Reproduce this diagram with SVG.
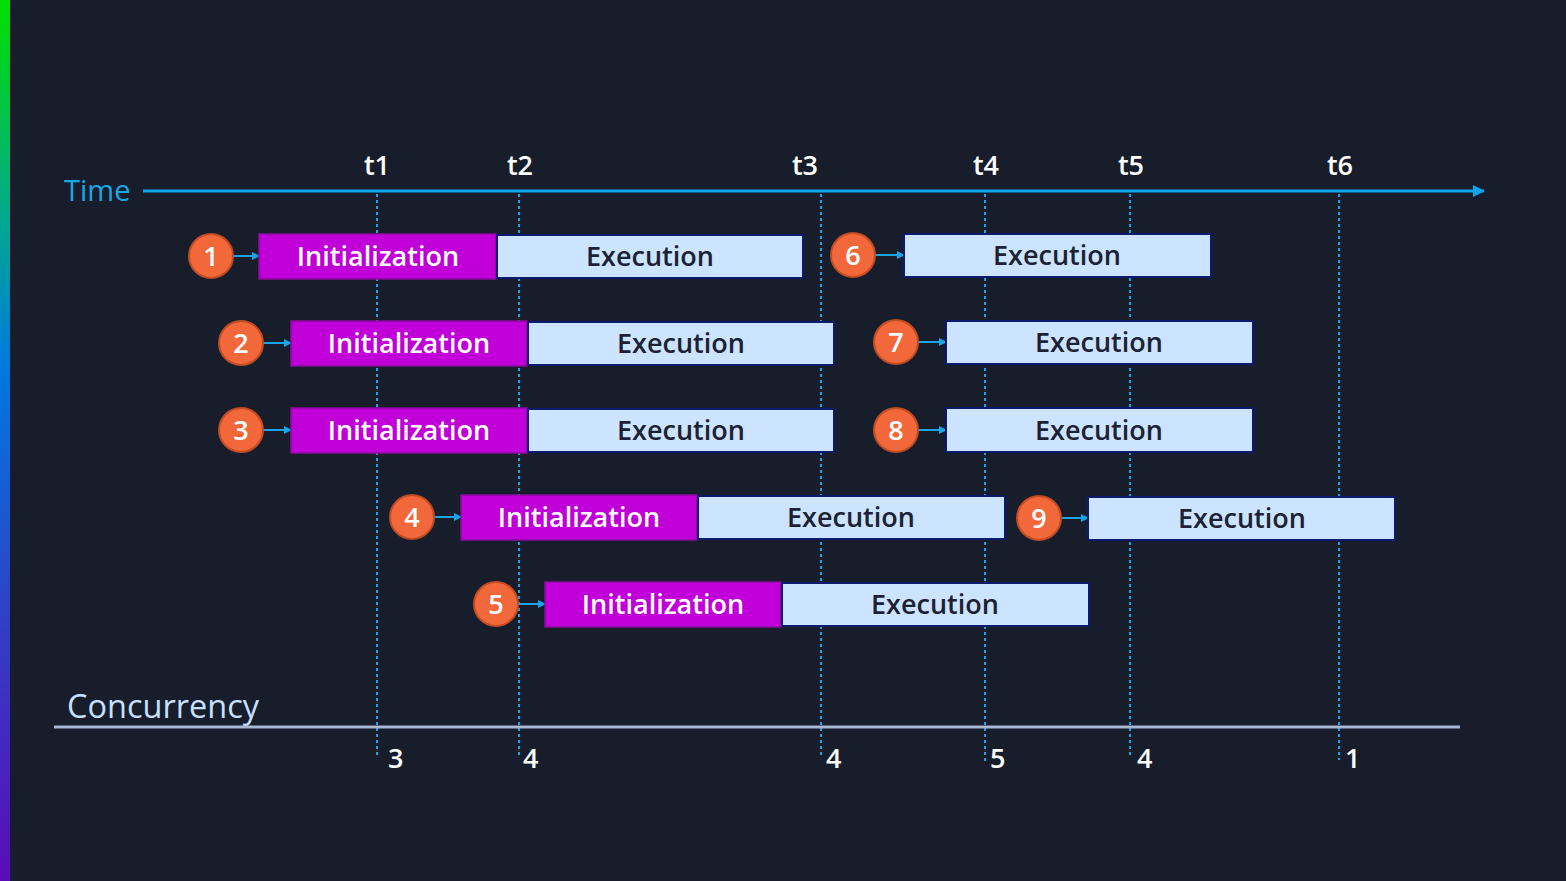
<svg xmlns="http://www.w3.org/2000/svg" width="1566" height="881" viewBox="0 0 1566 881">
<defs>
<linearGradient id="bar" x1="0" y1="0" x2="0" y2="1">
<stop offset="0" stop-color="#00e000"/>
<stop offset="0.25" stop-color="#00a890"/>
<stop offset="0.42" stop-color="#0078e0"/>
<stop offset="0.7" stop-color="#3040c8"/>
<stop offset="1" stop-color="#5a0cb8"/>
</linearGradient>
<marker id="ah" markerWidth="8" markerHeight="8" refX="7" refY="4" orient="auto" markerUnits="userSpaceOnUse">
<path d="M0,0 L8,4 L0,8 z" fill="#1aa6e6"/>
</marker>
<marker id="ahBig" markerWidth="12" markerHeight="12" refX="11" refY="6" orient="auto" markerUnits="userSpaceOnUse">
<path d="M0,0 L12,6 L0,12 z" fill="#0ea5e9"/>
</marker>
</defs>
<style>
text{font-family:"Open Sans","Noto Sans","Liberation Sans",sans-serif;font-weight:600}
.init{fill:#c100d9;stroke:#8a0a9e;stroke-width:1.5}
.exec{fill:#cce4ff;stroke:#0c1a6e;stroke-width:2}
.it{fill:#ffffff;font-size:27px;text-anchor:middle}
.et{fill:#1b2233;font-size:27px;text-anchor:middle}
.badge{fill:#f2683a;stroke:#c14b22;stroke-width:2}
.bt{fill:#ffffff;font-size:27px;text-anchor:middle}
.tick{stroke:#1aa6e6;stroke-width:2;stroke-dasharray:3,3}
.tl{fill:#ffffff;font-size:27px;text-anchor:middle}
.cn{fill:#ffffff;font-size:27px}
.link{stroke:#1aa6e6;stroke-width:2;fill:none}
</style>
<rect width="1566" height="881" fill="#171d2b"/>
<rect x="0" y="0" width="10" height="881" fill="url(#bar)"/>

<g id="axis">
<text x="64" y="201" fill="#1aa6e6" style="font-size:29px;font-weight:400">Time</text>
<line x1="143" y1="191" x2="1484" y2="191" stroke="#0ea5e9" stroke-width="3" marker-end="url(#ahBig)"/>
<text class="tl" x="377" y="175">t1</text>
<text class="tl" x="520" y="175">t2</text>
<text class="tl" x="805" y="175">t3</text>
<text class="tl" x="986" y="175">t4</text>
<text class="tl" x="1131" y="175">t5</text>
<text class="tl" x="1340" y="175">t6</text>
</g>

<g id="ticks">
<line class="tick" x1="377" y1="194" x2="377" y2="756"/>
<line class="tick" x1="519" y1="194" x2="519" y2="758"/>
<line class="tick" x1="821" y1="194" x2="821" y2="758"/>
<line class="tick" x1="985" y1="194" x2="985" y2="762"/>
<line class="tick" x1="1130" y1="194" x2="1130" y2="758"/>
<line class="tick" x1="1339" y1="194" x2="1339" y2="760"/>
</g>

<g id="concurrency">
<text x="67" y="718" fill="#c8e0ff" style="font-size:32.5px;font-weight:400">Concurrency</text>
<line x1="54" y1="727" x2="1460" y2="727" stroke="#a9b8d2" stroke-width="3"/>
<text class="cn" x="388" y="768">3</text>
<text class="cn" x="523" y="768">4</text>
<text class="cn" x="826" y="768">4</text>
<text class="cn" x="990" y="768">5</text>
<text class="cn" x="1137" y="768">4</text>
<text class="cn" x="1345" y="768">1</text>
</g>

<g id="connectors">
<line class="link" x1="233" y1="256" x2="259" y2="256" marker-end="url(#ah)"/>
<line class="link" x1="263" y1="343" x2="291" y2="343" marker-end="url(#ah)"/>
<line class="link" x1="263" y1="430" x2="291" y2="430" marker-end="url(#ah)"/>
<line class="link" x1="434" y1="517" x2="461" y2="517" marker-end="url(#ah)"/>
<line class="link" x1="518" y1="604" x2="545" y2="604" marker-end="url(#ah)"/>
<line class="link" x1="875" y1="255" x2="904" y2="255" marker-end="url(#ah)"/>
<line class="link" x1="918" y1="342" x2="946" y2="342" marker-end="url(#ah)"/>
<line class="link" x1="918" y1="430" x2="946" y2="430" marker-end="url(#ah)"/>
<line class="link" x1="1061" y1="518" x2="1088" y2="518" marker-end="url(#ah)"/>
</g>

<g id="req1">
<circle class="badge" cx="211" cy="256" r="22"/><text class="bt" x="211" y="266">1</text>
<rect class="init" x="259" y="234" width="237" height="45"/><text class="it" x="378" y="266">Initialization</text>
<rect class="exec" x="497" y="235" width="306" height="43"/><text class="et" x="650" y="266">Execution</text>
</g>
<g id="req2">
<circle class="badge" cx="241" cy="343" r="22"/><text class="bt" x="241" y="353">2</text>
<rect class="init" x="291" y="321" width="236" height="45"/><text class="it" x="409" y="353">Initialization</text>
<rect class="exec" x="528" y="322" width="306" height="43"/><text class="et" x="681" y="353">Execution</text>
</g>
<g id="req3">
<circle class="badge" cx="241" cy="430" r="22"/><text class="bt" x="241" y="440">3</text>
<rect class="init" x="291" y="408" width="236" height="45"/><text class="it" x="409" y="440">Initialization</text>
<rect class="exec" x="528" y="409" width="306" height="43"/><text class="et" x="681" y="440">Execution</text>
</g>
<g id="req4">
<circle class="badge" cx="412" cy="517" r="22"/><text class="bt" x="412" y="527">4</text>
<rect class="init" x="461" y="495" width="236" height="45"/><text class="it" x="579" y="527">Initialization</text>
<rect class="exec" x="698" y="496" width="307" height="43"/><text class="et" x="851" y="527">Execution</text>
</g>
<g id="req5">
<circle class="badge" cx="496" cy="604" r="22"/><text class="bt" x="496" y="614">5</text>
<rect class="init" x="545" y="582" width="236" height="45"/><text class="it" x="663" y="614">Initialization</text>
<rect class="exec" x="782" y="583" width="307" height="43"/><text class="et" x="935" y="614">Execution</text>
</g>
<g id="req6">
<circle class="badge" cx="853" cy="255" r="22"/><text class="bt" x="853" y="265">6</text>
<rect class="exec" x="904" y="234" width="307" height="43"/><text class="et" x="1057" y="265">Execution</text>
</g>
<g id="req7">
<circle class="badge" cx="896" cy="342" r="22"/><text class="bt" x="896" y="352">7</text>
<rect class="exec" x="946" y="321" width="307" height="43"/><text class="et" x="1099" y="352">Execution</text>
</g>
<g id="req8">
<circle class="badge" cx="896" cy="430" r="22"/><text class="bt" x="896" y="440">8</text>
<rect class="exec" x="946" y="408" width="307" height="44"/><text class="et" x="1099" y="440">Execution</text>
</g>
<g id="req9">
<circle class="badge" cx="1039" cy="518" r="22"/><text class="bt" x="1039" y="528">9</text>
<rect class="exec" x="1088" y="497" width="307" height="43"/><text class="et" x="1242" y="528">Execution</text>
</g>
</svg>
